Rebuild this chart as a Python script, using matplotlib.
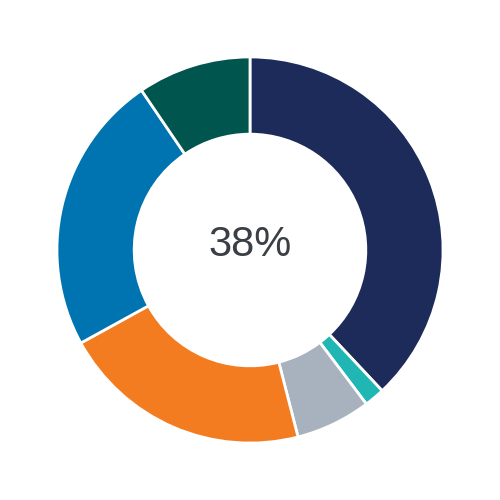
import matplotlib.pyplot as plt

labels = ['A', 'B', 'C', 'D', 'E', 'F']
values = [38, 1.7, 6.3, 21, 23.5, 9.5]
colors = ['#1c2b5a', '#1fb6b4', '#a8b2bf', '#f47c20', '#0073b1', '#00564f']
center_text = '38%'

fig = plt.figure(figsize=(5, 5), dpi=100)
ax = fig.add_axes([0, 0, 1, 1])
ax.pie(values, colors=colors, startangle=90, counterclock=False,
       wedgeprops=dict(width=0.4, edgecolor='white', linewidth=2))
ax.text(0, 0.025, center_text, ha='center', va='center', fontsize=30,
        color='#3a3f45', family='Liberation Sans')
ax.set_xlim(-1.295, 1.295)
ax.set_ylim(-1.295, 1.295)
ax.set_aspect('equal')
ax.axis('off')
fig.savefig('out.png', dpi=100, facecolor='white')
